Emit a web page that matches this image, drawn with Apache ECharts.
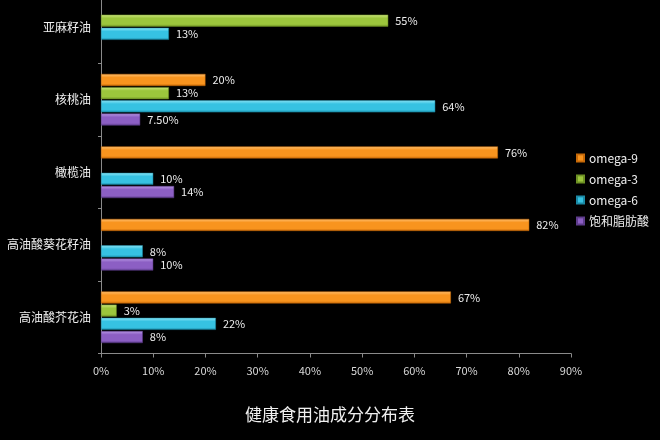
<!DOCTYPE html>
<html>
<head>
<meta charset="utf-8">
<script src="https://cdn.jsdelivr.net/npm/echarts@6/dist/echarts.min.js"></script>
<style>
  html, body { margin: 0; padding: 0; background: #000; overflow: hidden; }
  /* 顶部类目带被裁掉一部分，所以画布向上偏移 */
  #chart { width: 660px; height: 449px; position: absolute; left: 0; top: -9px; }
</style>
</head>
<body>
<div id="chart"></div>
<script>
// 数据
var categories = ['亚麻籽油', '核桃油', '橄榄油', '高油酸葵花籽油', '高油酸芥花油'];
var seriesNames = ['omega-9', 'omega-3', 'omega-6', '饱和脂肪酸'];
var omega9 = [null, 20, 76, 82, 67];
var omega3 = [55, 13, null, null, 3];
var omega6 = [13, 64, 10, 8, 22];
var saturated = [null, 7.5, 14, 10, 8];
var xTicks = [0, 10, 20, 30, 40, 50, 60, 70, 80, 90];

// 颜色（上亮下暗，模拟立体条）
var colorList = [
  ['#FFC070', '#F8941E', '#C86A08'],
  ['#CDE680', '#9CC63C', '#6E9224'],
  ['#90E8F8', '#36C2E2', '#1A8AA6'],
  ['#B898E4', '#8C5FC4', '#5E3C8C']
];

function barColor(c) {
  return new echarts.graphic.LinearGradient(0, 0, 0, 1, [
    { offset: 0, color: c[0] },
    { offset: 0.3, color: c[1] },
    { offset: 0.8, color: c[1] },
    { offset: 1, color: c[2] }
  ]);
}

function fmt(v) {
  return Number.isInteger(v) ? v + '%' : v.toFixed(2) + '%';
}

var dataList = [omega9, omega3, omega6, saturated];
var series = [];
for (var i = 0; i < seriesNames.length; i++) {
  series.push({
    name: seriesNames[i],
    type: 'bar',
    data: dataList[i],
    barWidth: 12,
    barGap: '10%',
    itemStyle: {
      color: barColor(colorList[i]),
      borderColor: colorList[i][2],
      borderWidth: 0.5
    },
    label: {
      show: true,
      position: 'right',
      distance: 7,
      color: '#ececec',
      fontSize: 11,
      fontFamily: 'Noto Sans CJK SC',
      formatter: function (p) { return fmt(p.value); }
    }
  });
}

var myChart = echarts.init(document.getElementById('chart'));
var option = {
  backgroundColor: '#000',
  animation: false,
  title: {
    text: '健康食用油成分分布表',
    left: 'center',
    top: 410,
    textStyle: {
      color: '#f0f0f0',
      fontSize: 17,
      fontWeight: 'normal',
      fontFamily: 'Noto Sans CJK SC'
    }
  },
  legend: {
    orient: 'vertical',
    left: 571,
    top: 156,
    itemWidth: 7,
    itemHeight: 7,
    itemGap: 9,
    icon: 'rect',
    data: seriesNames,
    textStyle: {
      color: '#f0f0f0',
      fontSize: 12,
      fontFamily: 'Noto Sans CJK SC'
    }
  },
  grid: {
    left: 101,
    right: 89,
    top: 0,
    bottom: 86.5,
    containLabel: false
  },
  xAxis: {
    type: 'value',
    min: 0,
    max: 90,
    interval: 10,
    axisLine: { show: true, lineStyle: { color: '#8a8a8a' } },
    axisTick: { show: true, length: 4, lineStyle: { color: '#8a8a8a' } },
    splitLine: { show: false },
    axisLabel: {
      color: '#d8d8d8',
      fontSize: 11,
      margin: 12,
      fontFamily: 'Noto Sans CJK SC',
      formatter: function (v) { return xTicks.indexOf(v) >= 0 ? v + '%' : ''; }
    }
  },
  yAxis: {
    type: 'category',
    data: categories,
    inverse: true,
    axisLine: { show: true, lineStyle: { color: '#8a8a8a' } },
    axisTick: { show: true, length: 3, lineStyle: { color: '#8a8a8a' } },
    axisLabel: {
      color: '#f0f0f0',
      fontSize: 12,
      margin: 10,
      fontFamily: 'Noto Sans CJK SC'
    }
  },
  series: series
};
myChart.setOption(option);
</script>
</body>
</html>
